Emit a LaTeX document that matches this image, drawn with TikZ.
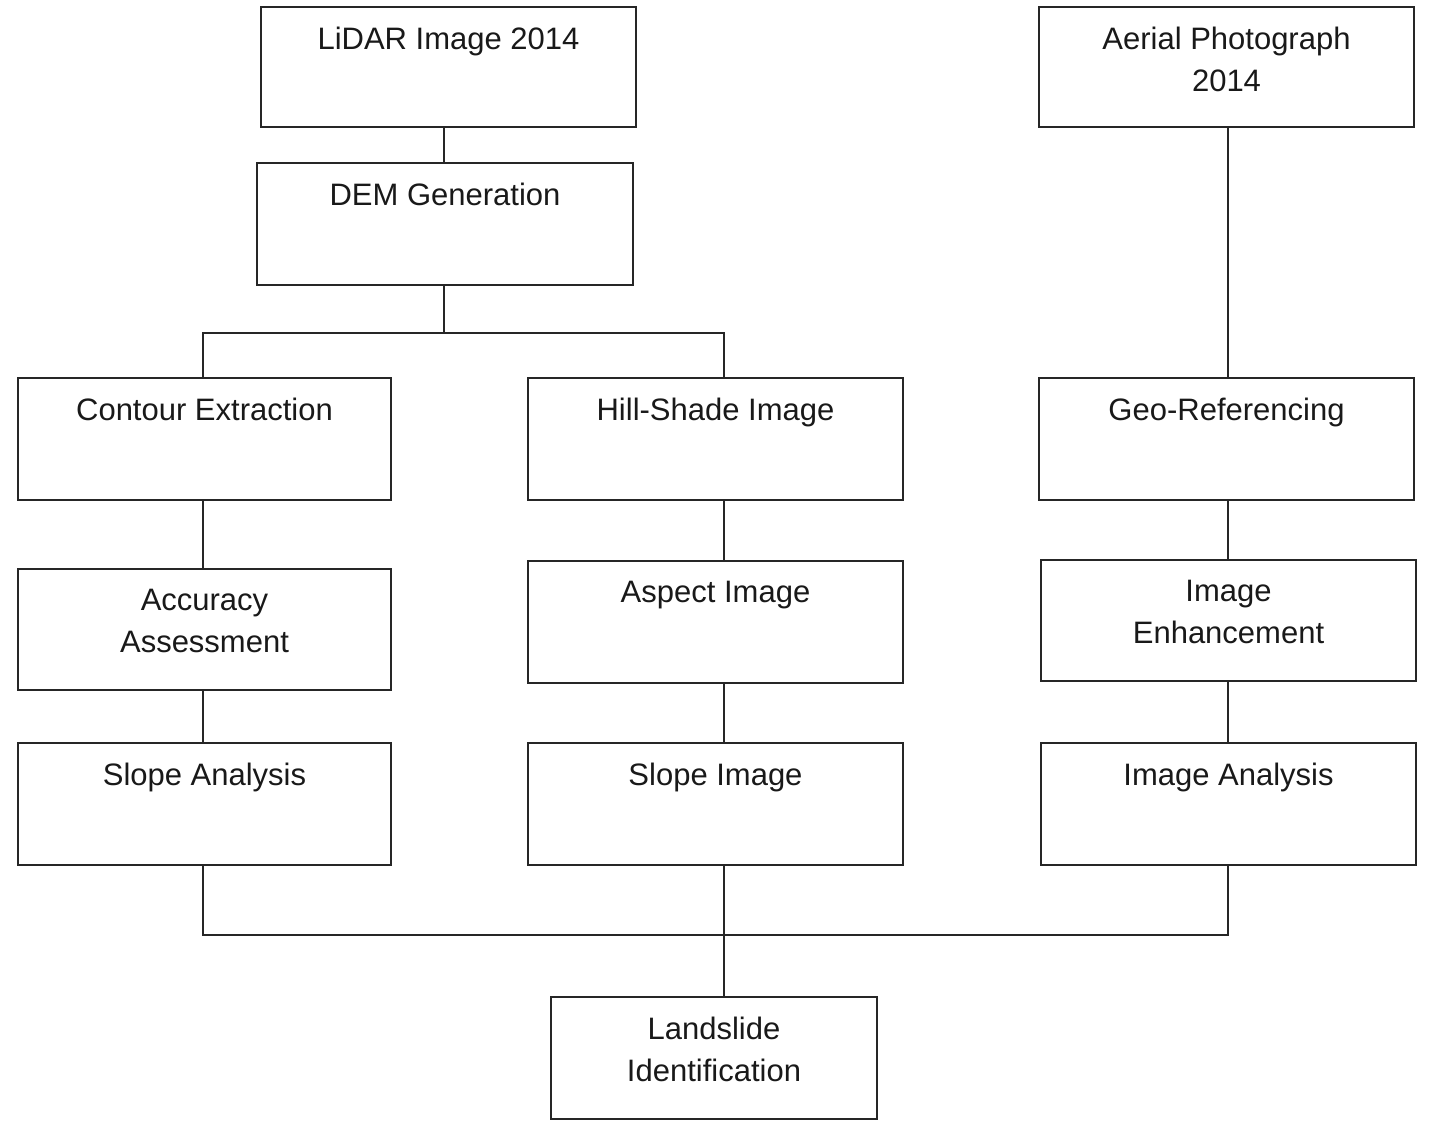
\documentclass[tikz,border=0pt]{standalone}
\usepackage{fontspec}
\setmainfont{Liberation Sans}
\begin{document}
\begin{tikzpicture}[x=1pt,y=-1pt,
  box/.style={draw=black!85,line width=2pt},
  lbl/.style={font=\fontsize{31}{42}\selectfont,align=center,anchor=north,inner sep=0pt,text=black!90},
  ln/.style={draw=black!85,line width=2pt}]
\useasboundingbox (0,0) rectangle (1443,1133);
\newcommand{\bx}[6]{\draw[box] (#2,#3) rectangle (#4,#5);
  \coordinate (#1-n) at ({(#2+#4)/2},#3); \coordinate (#1-s) at ({(#2+#4)/2},#5);
  \node[lbl] (#1) at ({(#2+#4)/2},#3+20) {#6};}
\bx{lidar}{261}{7}{636}{127}{LiDAR Image 2014}
\bx{aerial}{1039}{7}{1414}{127}{Aerial Photograph\\2014}
\bx{dem}{257}{163}{633}{285}{DEM Generation}
\bx{cont}{18}{378}{391}{500}{Contour Extraction}
\bx{hill}{528}{378}{903}{500}{Hill-Shade Image}
\bx{geo}{1039}{378}{1414}{500}{Geo-Referencing}
\bx{acc}{18}{569}{391}{690}{Accuracy\\Assessment}
\bx{asp}{528}{561}{903}{683}{Aspect Image}
\bx{enh}{1041}{560}{1416}{681}{Image\\Enhancement}
\bx{sa}{18}{743}{391}{865}{Slope Analysis}
\bx{si}{528}{743}{903}{865}{Slope Image}
\bx{ia}{1041}{743}{1416}{865}{Image Analysis}
\bx{land}{551}{997}{877}{1119}{Landslide\\Identification}
\draw[ln] (444,127) -- (444,163);
\draw[ln] (444,285) -- (444,333);
\draw[ln] (203,378) -- (203,333) -- (724,333) -- (724,378);
\draw[ln] (1228,127) -- (1228,378);
\draw[ln] (203,500) -- (203,569);
\draw[ln] (203,690) -- (203,743);
\draw[ln] (724,500) -- (724,561);
\draw[ln] (724,683) -- (724,743);
\draw[ln] (1228,500) -- (1228,560);
\draw[ln] (1228,681) -- (1228,743);
\draw[ln] (203,865) -- (203,935) -- (1228,935) -- (1228,865);
\draw[ln] (724,865) -- (724,997);
\end{tikzpicture}
\end{document}
